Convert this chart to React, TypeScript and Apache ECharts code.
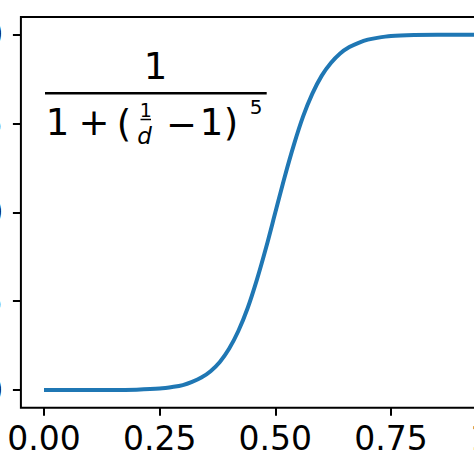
import React, { useEffect, useRef } from "react";
import * as echarts from "echarts";

// Values
const xValues = [0.0, 0.05, 0.1, 0.15, 0.2, 0.25, 0.28, 0.3, 0.32, 0.34, 0.36, 0.38, 0.4, 0.42, 0.44, 0.46, 0.48, 0.5, 0.52, 0.54, 0.56, 0.58, 0.6, 0.62, 0.64, 0.66, 0.68, 0.7, 0.72, 0.75, 0.8, 0.85, 0.9, 0.95, 1.0];
const yValues = [0.0, 0.0, 0.0, 0.0, 0.001, 0.004, 0.009, 0.014, 0.023, 0.035, 0.053, 0.079, 0.116, 0.166, 0.23, 0.31, 0.401, 0.5, 0.599, 0.69, 0.77, 0.834, 0.884, 0.92, 0.947, 0.965, 0.977, 0.986, 0.991, 0.996, 0.999, 1.0, 1.0, 1.0, 1.0];
const xTicks = [0, 0.25, 0.5, 0.75, 1.0];
const yTicks = [0, 0.25, 0.5, 0.75, 1.0];

const OFF = 80;
const W = 640;
const H = 474;
const FONT = "DejaVu Sans";

export default function App() {
  const ref = useRef<HTMLDivElement>(null);
  useEffect(() => {
    if (!ref.current) return;
    const chart = echarts.init(ref.current, undefined, { renderer: "svg" });
    const data = xValues.map((x, i) => [x, yValues[i]]);
    const txt = (text: string, x: number, y: number, size: number, italic = false) => ({
      type: "text",
      x: x + OFF,
      y,
      style: {
        text,
        fontSize: size,
        fontFamily: FONT,
        fontStyle: italic ? "italic" : "normal",
        fill: "#000",
        align: "center",
        verticalAlign: "middle",
      },
    });
    const line = (x1: number, x2: number, y: number, w: number) => ({
      type: "line",
      shape: { x1: x1 + OFF, y1: y, x2: x2 + OFF, y2: y },
      style: { stroke: "#000", lineWidth: w },
    });
    chart.setOption({
      animation: false,
      backgroundColor: "#fff",
      grid: {
        left: 100.9,
        right: W - 609.8,
        top: 16.9,
        bottom: H - 407.8,
        show: true,
        borderColor: "#000",
        borderWidth: 2,
        containLabel: false,
      },
      xAxis: {
        type: "value",
        min: -0.05,
        max: 1.05,
        splitLine: { show: false },
        axisLine: { show: false, onZero: false },
        axisTick: {
          show: true,
          inside: false,
          customValues: xTicks,
          length: 8,
          lineStyle: { color: "#000", width: 2 },
        },
        axisLabel: {
          customValues: xTicks,
          formatter: (v: number) => v.toFixed(2),
          fontSize: 33,
          fontFamily: FONT,
          color: "#000",
          margin: 14,
        },
      },
      yAxis: {
        type: "value",
        min: -0.05,
        max: 1.05,
        splitLine: { show: false },
        axisLine: { show: false, onZero: false },
        axisTick: {
          show: true,
          inside: false,
          customValues: yTicks,
          length: 8,
          lineStyle: { color: "#000", width: 2 },
        },
        axisLabel: {
          customValues: yTicks,
          formatter: (v: number) => v.toFixed(2),
          fontSize: 33,
          fontFamily: FONT,
          color: "#000",
          margin: 18,
        },
      },
      series: [
        {
          type: "line",
          data,
          smooth: 0.3,
          showSymbol: false,
          lineStyle: { color: "#1f77b4", width: 4 },
          itemStyle: { color: "#1f77b4" },
        },
      ],
      graphic: [
        txt("1", 155.5, 66.7, 37),
        line(45, 266.7, 93.3, 2.5),
        txt("1", 57.5, 122, 37),
        txt("+", 94, 122, 37),
        txt("(", 124, 124, 37),
        txt("1", 145.7, 109.7, 19),
        line(140.5, 151, 119.5, 1.5),
        txt("d", 144.5, 135.5, 23, true),
        txt("\u2212", 181.5, 124, 37),
        txt("1", 211.5, 122, 37),
        txt(")", 231, 123, 37),
        txt("5", 256, 107, 20),
      ],
    });
    return () => chart.dispose();
  }, []);
  return (
    <div
      style={{
        position: "fixed",
        left: 0,
        top: 0,
        width: 474,
        height: 474,
        overflow: "hidden",
        background: "#fff",
      }}
    >
      <div ref={ref} style={{ position: "absolute", left: -OFF, top: 0, width: W, height: H }} />
    </div>
  );
}
